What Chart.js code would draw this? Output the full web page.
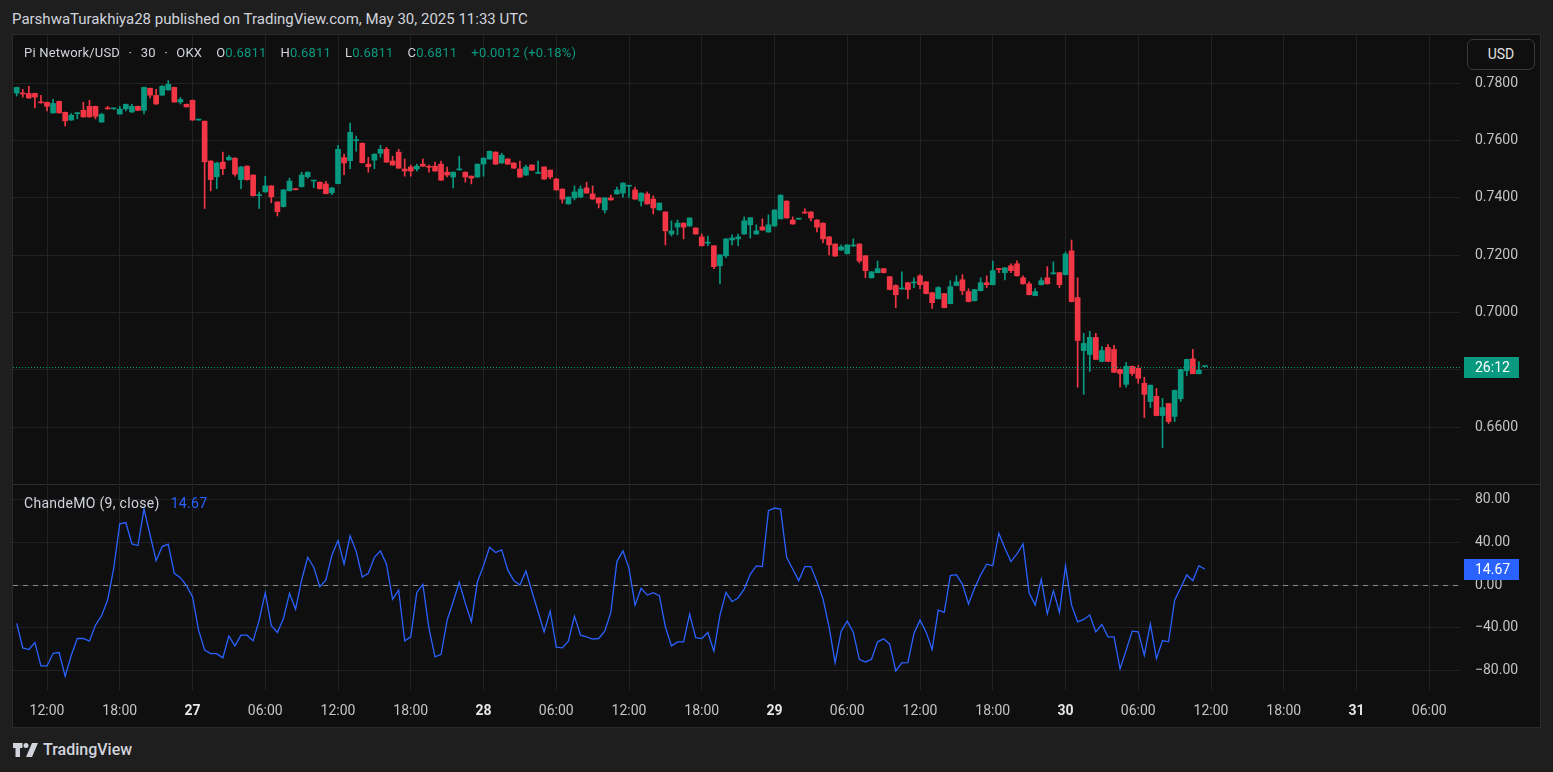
<!DOCTYPE html>
<html>
<head>
<meta charset="utf-8">
<script src="https://cdn.jsdelivr.net/npm/chart.js@4.4.1/dist/chart.umd.min.js"></script>
<style>
  body { margin: 0; width: 1553px; height: 772px; overflow: hidden; background: #1e1e1e; font-family: Roboto, "Noto Sans", sans-serif; }
  #title { position: absolute; left: 12px; top: 10px; color: #d1d4dc; font-size: 15px; }
  #frame { position: absolute; left: 12px; top: 34px; width: 1529px; height: 694px; background: #0f0f0f; border: 1px solid #2a2a2a; box-sizing: border-box; }
  canvas { position: absolute; }
  #main { left: 13px; top: 35px; }
  #osc { left: 13px; top: 486px; }
  #sep { position: absolute; left: 13px; top: 484px; width: 1527px; height: 1px; background: #2e2e2e; }
  #legend { position: absolute; left: 24px; top: 45px; font-size: 13px; color: #d1d4dc; white-space: pre; letter-spacing: 0.2px; }
  #legend span { margin-right: 14px; }
  #legend .g { color: #089981; }
  #legend .d { margin: 0 8.5px; }
  #osclegend { position: absolute; left: 24px; top: 495px; font-size: 14px; color: #d1d4dc; white-space: pre; letter-spacing: 0.3px; }
  #osclegend span { color: #2962ff; margin-left: 11px; }
  #usd { position: absolute; left: 1467px; top: 39px; width: 68px; height: 31px; border: 1px solid #3a3a3a; border-radius: 6px; box-sizing: border-box; color: #e0e0e0; font-size: 14px; line-height: 29px; text-align: center; background: #0f0f0f; }
  #brand { position: absolute; left: 13px; top: 740px; display: flex; align-items: center; color: #d1d4dc; font-size: 16px; font-weight: 500; }
  #brand svg { margin-right: 5px; }
</style>
</head>
<body>
<div id="title">ParshwaTurakhiya28 published on TradingView.com, May 30, 2025 11:33 UTC</div>
<div id="frame"></div>
<canvas id="main" width="1526" height="449"></canvas>
<div id="sep"></div>
<canvas id="osc" width="1526" height="241"></canvas>
<div id="legend"></div>
<div id="osclegend"></div>
<div id="usd">USD</div>
<div id="brand">
  <svg width="25" height="16" viewBox="0 0 25 16"><path d="M0 1h9.5v5H7v9H2.5V6H0z" fill="#d1d4dc"/><circle cx="13" cy="3.5" r="2.5" fill="#d1d4dc"/><path d="M19 1h6l-6 14h-6z" fill="#d1d4dc"/></svg>
  <span>TradingView</span>
</div>
<script>
// Pi Network/USD, 30 min bars, OKX – first bar 26 May 09:30, last 30 May 11:30
const open = [
  0.7766, 0.7765, 0.7765, 0.7765, 0.7734, 0.7734, 0.7697, 0.7737, 0.7699, 0.7672,
  0.7694, 0.7706, 0.7720, 0.7720, 0.7665, 0.7713, 0.7711, 0.7693, 0.7711, 0.7700,
  0.7720, 0.7706, 0.7783, 0.7758, 0.7759, 0.7777, 0.7786, 0.7735, 0.7727, 0.7741,
  0.7672, 0.7668, 0.7529, 0.7474, 0.7525, 0.7533, 0.7539, 0.7464, 0.7511, 0.7480,
  0.7408, 0.7421, 0.7442, 0.7386, 0.7370, 0.7425, 0.7431, 0.7439, 0.7474, 0.7459,
  0.7455, 0.7449, 0.7418, 0.7450, 0.7541, 0.7530, 0.7600, 0.7591, 0.7518, 0.7532,
  0.7556, 0.7570, 0.7529, 0.7560, 0.7501, 0.7508, 0.7501, 0.7518, 0.7509, 0.7511,
  0.7518, 0.7490, 0.7473, 0.7498, 0.7490, 0.7476, 0.7473, 0.7518, 0.7536, 0.7560,
  0.7522, 0.7536, 0.7522, 0.7501, 0.7480, 0.7515, 0.7486, 0.7508, 0.7497, 0.7466,
  0.7431, 0.7379, 0.7400, 0.7403, 0.7435, 0.7414, 0.7400, 0.7358, 0.7400, 0.7414,
  0.7417, 0.7441, 0.7428, 0.7389, 0.7414, 0.7396, 0.7358, 0.7351, 0.7274, 0.7298,
  0.7312, 0.7302, 0.7295, 0.7264, 0.7242, 0.7233, 0.7163, 0.7198, 0.7253, 0.7257,
  0.7274, 0.7306, 0.7274, 0.7299, 0.7281, 0.7302, 0.7327, 0.7389, 0.7323, 0.7326,
  0.7351, 0.7351, 0.7323, 0.7312, 0.7264, 0.7239, 0.7218, 0.7205, 0.7232, 0.7239,
  0.7198, 0.7121, 0.7139, 0.7153, 0.7125, 0.7094, 0.7082, 0.7104, 0.7103, 0.7128,
  0.7107, 0.7069, 0.7048, 0.7066, 0.7031, 0.7094, 0.7114, 0.7073, 0.7041, 0.7076,
  0.7104, 0.7097, 0.7153, 0.7139, 0.7163, 0.7170, 0.7121, 0.7100, 0.7059, 0.7097,
  0.7121, 0.7135, 0.7139, 0.7132, 0.7215, 0.7052, 0.6867, 0.6853, 0.6913, 0.6829,
  0.6878, 0.6871, 0.6801, 0.6749, 0.6812, 0.6805, 0.6753, 0.6689, 0.6707, 0.6640,
  0.6682, 0.6637, 0.6699, 0.6797, 0.6838, 0.6786, 0.6811
]
const high = [
  0.7787, 0.7779, 0.7790, 0.7766, 0.7758, 0.7735, 0.7744, 0.7738, 0.7700, 0.7695,
  0.7699, 0.7734, 0.7741, 0.7721, 0.7696, 0.7720, 0.7714, 0.7720, 0.7728, 0.7727,
  0.7721, 0.7787, 0.7784, 0.7779, 0.7793, 0.7810, 0.7787, 0.7751, 0.7728, 0.7742,
  0.7675, 0.7669, 0.7530, 0.7525, 0.7560, 0.7549, 0.7540, 0.7510, 0.7512, 0.7481,
  0.7421, 0.7476, 0.7443, 0.7387, 0.7430, 0.7469, 0.7432, 0.7490, 0.7491, 0.7461,
  0.7456, 0.7458, 0.7436, 0.7584, 0.7553, 0.7661, 0.7616, 0.7592, 0.7542, 0.7554,
  0.7584, 0.7577, 0.7546, 0.7570, 0.7536, 0.7515, 0.7518, 0.7536, 0.7515, 0.7525,
  0.7529, 0.7508, 0.7491, 0.7546, 0.7491, 0.7477, 0.7519, 0.7540, 0.7564, 0.7561,
  0.7556, 0.7537, 0.7523, 0.7529, 0.7515, 0.7516, 0.7529, 0.7509, 0.7498, 0.7469,
  0.7432, 0.7404, 0.7442, 0.7442, 0.7455, 0.7442, 0.7401, 0.7401, 0.7410, 0.7438,
  0.7453, 0.7443, 0.7438, 0.7418, 0.7421, 0.7407, 0.7383, 0.7352, 0.7320, 0.7323,
  0.7313, 0.7331, 0.7296, 0.7274, 0.7267, 0.7234, 0.7202, 0.7258, 0.7271, 0.7274,
  0.7334, 0.7332, 0.7306, 0.7327, 0.7341, 0.7359, 0.7411, 0.7390, 0.7334, 0.7328,
  0.7362, 0.7352, 0.7324, 0.7313, 0.7265, 0.7240, 0.7236, 0.7237, 0.7257, 0.7240,
  0.7199, 0.7143, 0.7180, 0.7154, 0.7126, 0.7097, 0.7142, 0.7105, 0.7121, 0.7132,
  0.7108, 0.7070, 0.7090, 0.7067, 0.7111, 0.7128, 0.7132, 0.7083, 0.7081, 0.7121,
  0.7128, 0.7180, 0.7154, 0.7157, 0.7170, 0.7180, 0.7128, 0.7107, 0.7083, 0.7121,
  0.7160, 0.7177, 0.7140, 0.7211, 0.7253, 0.7121, 0.6927, 0.6934, 0.6927, 0.6881,
  0.6888, 0.6885, 0.6802, 0.6826, 0.6813, 0.6815, 0.6774, 0.6747, 0.6735, 0.6700,
  0.6683, 0.6729, 0.6802, 0.6837, 0.6871, 0.6828, 0.6811
]
const low = [
  0.7756, 0.7752, 0.7748, 0.7714, 0.7731, 0.7704, 0.7696, 0.7696, 0.7651, 0.7671,
  0.7676, 0.7682, 0.7682, 0.7676, 0.7664, 0.7710, 0.7710, 0.7692, 0.7704, 0.7699,
  0.7705, 0.7693, 0.7749, 0.7727, 0.7758, 0.7776, 0.7734, 0.7728, 0.7717, 0.7671,
  0.7671, 0.7363, 0.7425, 0.7432, 0.7481, 0.7532, 0.7476, 0.7432, 0.7462, 0.7406,
  0.7363, 0.7420, 0.7383, 0.7337, 0.7368, 0.7424, 0.7428, 0.7438, 0.7469, 0.7436,
  0.7431, 0.7414, 0.7411, 0.7449, 0.7481, 0.7502, 0.7563, 0.7522, 0.7490, 0.7502,
  0.7542, 0.7524, 0.7514, 0.7503, 0.7476, 0.7476, 0.7494, 0.7510, 0.7490, 0.7493,
  0.7461, 0.7473, 0.7435, 0.7497, 0.7455, 0.7449, 0.7472, 0.7476, 0.7535, 0.7517,
  0.7521, 0.7517, 0.7503, 0.7472, 0.7479, 0.7496, 0.7485, 0.7465, 0.7466, 0.7427,
  0.7382, 0.7378, 0.7393, 0.7402, 0.7416, 0.7395, 0.7365, 0.7347, 0.7392, 0.7413,
  0.7403, 0.7403, 0.7395, 0.7372, 0.7378, 0.7344, 0.7357, 0.7236, 0.7267, 0.7271,
  0.7257, 0.7301, 0.7273, 0.7232, 0.7233, 0.7153, 0.7100, 0.7191, 0.7236, 0.7233,
  0.7273, 0.7260, 0.7273, 0.7287, 0.7280, 0.7301, 0.7326, 0.7329, 0.7308, 0.7325,
  0.7346, 0.7320, 0.7281, 0.7243, 0.7201, 0.7196, 0.7217, 0.7204, 0.7231, 0.7173,
  0.7121, 0.7120, 0.7138, 0.7138, 0.7079, 0.7017, 0.7081, 0.7048, 0.7087, 0.7083,
  0.7065, 0.7014, 0.7047, 0.7016, 0.7030, 0.7093, 0.7062, 0.7037, 0.7040, 0.7075,
  0.7087, 0.7096, 0.7139, 0.7114, 0.7139, 0.7127, 0.7099, 0.7061, 0.7058, 0.7096,
  0.7099, 0.7134, 0.7087, 0.7131, 0.7037, 0.6739, 0.6714, 0.6794, 0.6835, 0.6828,
  0.6828, 0.6790, 0.6739, 0.6739, 0.6780, 0.6753, 0.6633, 0.6668, 0.6639, 0.6528,
  0.6612, 0.6619, 0.6689, 0.6780, 0.6786, 0.6785, 0.6811
]
const close = [
  0.7786, 0.7763, 0.7749, 0.7752, 0.7732, 0.7720, 0.7730, 0.7697, 0.7669, 0.7689,
  0.7696, 0.7683, 0.7683, 0.7685, 0.7692, 0.7711, 0.7712, 0.7710, 0.7727, 0.7720,
  0.7706, 0.7786, 0.7759, 0.7728, 0.7790, 0.7797, 0.7735, 0.7744, 0.7718, 0.7672,
  0.7674, 0.7526, 0.7464, 0.7522, 0.7502, 0.7542, 0.7483, 0.7508, 0.7464, 0.7408,
  0.7410, 0.7442, 0.7404, 0.7352, 0.7428, 0.7459, 0.7429, 0.7480, 0.7490, 0.7460,
  0.7432, 0.7415, 0.7435, 0.7570, 0.7522, 0.7629, 0.7602, 0.7523, 0.7509, 0.7553,
  0.7570, 0.7525, 0.7515, 0.7504, 0.7494, 0.7494, 0.7511, 0.7511, 0.7507, 0.7494,
  0.7462, 0.7480, 0.7490, 0.7500, 0.7473, 0.7469, 0.7518, 0.7539, 0.7563, 0.7518,
  0.7549, 0.7518, 0.7504, 0.7473, 0.7508, 0.7497, 0.7487, 0.7466, 0.7473, 0.7428,
  0.7396, 0.7403, 0.7421, 0.7431, 0.7417, 0.7396, 0.7382, 0.7400, 0.7393, 0.7428,
  0.7452, 0.7442, 0.7396, 0.7417, 0.7379, 0.7365, 0.7382, 0.7285, 0.7285, 0.7312,
  0.7298, 0.7330, 0.7274, 0.7233, 0.7243, 0.7160, 0.7201, 0.7257, 0.7260, 0.7264,
  0.7320, 0.7331, 0.7285, 0.7288, 0.7306, 0.7358, 0.7410, 0.7330, 0.7309, 0.7327,
  0.7347, 0.7330, 0.7298, 0.7257, 0.7236, 0.7197, 0.7229, 0.7236, 0.7233, 0.7180,
  0.7146, 0.7142, 0.7153, 0.7139, 0.7080, 0.7062, 0.7083, 0.7080, 0.7104, 0.7097,
  0.7066, 0.7034, 0.7087, 0.7017, 0.7090, 0.7107, 0.7076, 0.7038, 0.7080, 0.7104,
  0.7097, 0.7146, 0.7150, 0.7156, 0.7146, 0.7128, 0.7100, 0.7062, 0.7073, 0.7111,
  0.7100, 0.7136, 0.7097, 0.7204, 0.7038, 0.6902, 0.6892, 0.6913, 0.6836, 0.6867,
  0.6829, 0.6791, 0.6787, 0.6812, 0.6787, 0.6770, 0.6714, 0.6746, 0.6640, 0.6668,
  0.6619, 0.6728, 0.6801, 0.6836, 0.6786, 0.6799, 0.6811
]
// Chande momentum oscillator (9, close), one value per bar
const cmo = [
  -35.9, -58.8, -60.3, -53.8, -75.6, -75.6, -63.8, -63.1, -85.3, -65.6,
  -50.0, -50.0, -52.5, -37.5, -28.8, -14.0, 15.6, 57.2, 58.4, 38.4,
  36.9, 70.9, 46.9, 22.8, 35.9, 38.1, 10.9, 6.9, -0.6, -10.9,
  -42.2, -60.9, -64.1, -64.1, -68.1, -47.8, -56.9, -46.9, -46.9, -52.2,
  -32.8, -7.2, -38.1, -44.4, -31.3, -7.8, -22.5, 4.7, 25.9, 16.6,
  -1.6, 4.7, 28.1, 41.6, 19.4, 45.9, 31.3, 7.5, 10.9, 25.9,
  31.9, 19.4, -13.4, -4.7, -52.2, -48.4, -6.9, 0.6, -40.6, -67.2,
  -64.7, -32.8, -15.6, 2.5, -17.2, -34.4, 3.1, 18.1, 35.3, 30.3,
  32.8, 14.1, 4.1, 0.0, 13.1, -6.3, -25.0, -43.8, -24.4, -58.1,
  -58.8, -52.5, -29.1, -46.9, -48.4, -50.6, -50.0, -43.1, -25.6, 21.9,
  31.9, 15.6, -18.8, -3.1, -9.4, -7.2, -10.0, -39.1, -56.9, -53.1,
  -53.1, -27.2, -49.1, -50.0, -44.4, -61.9, -28.1, -6.9, -15.6, -11.9,
  -3.8, 10.0, 17.8, 17.2, 69.4, 71.9, 70.9, 25.9, 15.0, 4.1,
  17.2, 17.2, 3.1, -13.1, -39.1, -72.8, -43.1, -33.8, -44.4, -69.7,
  -71.9, -69.4, -53.1, -50.3, -55.3, -80.3, -72.8, -72.5, -45.3, -32.8,
  -43.8, -60.3, -23.4, -25.6, 8.8, 9.7, 0.6, -17.8, -3.1, 9.4,
  19.4, 18.1, 48.4, 34.4, 21.9, 29.1, 38.4, -7.2, -18.8, 5.3,
  -26.9, -5.3, -25.6, 17.8, -18.8, -34.4, -32.2, -28.1, -43.8, -36.9,
  -48.4, -48.4, -78.4, -60.9, -43.1, -43.8, -65.6, -36.3, -68.8, -51.9,
  -53.1, -14.1, -2.5, 9.4, 4.1, 18.1, 14.67
]

// time axis: one label every 6 h (12 bars), first one is 26 May 12:00 = bar 5
const tickLabels = ['12:00', '18:00', '27', '06:00', '12:00', '18:00', '28', '06:00', '12:00', '18:00',
  '29', '06:00', '12:00', '18:00', '30', '06:00', '12:00', '18:00', '31', '06:00']
const firstTickBar = 5
const barsPerTick = 12
const priceTicks = [0.78, 0.76, 0.74, 0.72, 0.70, 0.68, 0.66]
const cmoTicks = [80, 40, 0, -40, -80]
const countdown = '26:12'

const GREEN = '#089981'
const RED = '#f23645'
const BLUE = '#2962ff'
const GRID = '#222222'
const AXIS_TXT = '#c4c4c4'
const FONT = 'Roboto, "Noto Sans", sans-serif'

Chart.defaults.font.family = FONT
Chart.defaults.font.size = 14
Chart.defaults.animation = false

const n = close.length
const last = n - 1
const colorOf = i => close[i] >= open[i] ? GREEN : RED
const isDay = l => !l.includes(':')
const fmt = (v, d) => (v < 0 ? '\u2212' : '') + Math.abs(v).toFixed(d)

// legends
const chg = close[last] - close[last - 1]
const pct = chg / close[last - 1] * 100
const sign = chg >= 0 ? '+' : '-'
document.getElementById('legend').innerHTML =
  'Pi Network/USD<i class="d">·</i>30<i class="d">·</i><span>OKX</span>' +
  `<span>O<b class="g">${open[last].toFixed(4)}</b></span>` +
  `<span>H<b class="g">${high[last].toFixed(4)}</b></span>` +
  `<span>L<b class="g">${low[last].toFixed(4)}</b></span>` +
  `<span>C<b class="g">${close[last].toFixed(4)}</b></span>` +
  `<span class="g">${sign}${Math.abs(chg).toFixed(4)} (${sign}${Math.abs(pct).toFixed(2)}%)</span>`
document.querySelectorAll('#legend b, #legend i').forEach(e => { e.style.fontWeight = 'normal'; e.style.fontStyle = 'normal' })
document.getElementById('osclegend').innerHTML = `ChandeMO (9, close)<span>${cmo[last].toFixed(2)}</span>`

// visible window in bar units (plot is 1447 px wide, 6.0625 px per bar)
const xMin = -0.61
const xMax = 238.07

function xScale(showLabels) {
  return {
    type: 'linear',
    min: xMin,
    max: xMax,
    offset: false,
    grid: { color: GRID, drawTicks: false, offset: false },
    border: { display: false },
    afterBuildTicks: s => { s.ticks = tickLabels.map((l, k) => ({ value: firstTickBar + k * barsPerTick })) },
    ticks: {
      display: showLabels,
      autoSkip: false,
      maxRotation: 0,
      padding: 13,
      callback: (v, i) => tickLabels[i],
      color: c => isDay(tickLabels[c.index] || '') ? '#e6e6e6' : AXIS_TXT,
      font: c => ({ size: 14, weight: isDay(tickLabels[c.index] || '') ? 'bold' : 'normal' })
    },
    afterFit: s => {
      s.height = showLabels ? 37 : 0
      s.paddingLeft = 0
      s.paddingRight = 0
    }
  }
}

function yScale(min, max, ticks, digits) {
  return {
    position: 'right',
    min, max,
    grid: { color: GRID, drawTicks: false },
    border: { display: false },
    afterBuildTicks: s => { s.ticks = ticks.map(v => ({ value: v })) },
    ticks: { color: AXIS_TXT, padding: 15, callback: v => fmt(v, digits) },
    afterFit: s => {
      s.width = 79
      s.paddingTop = 0
      s.paddingBottom = 0
    }
  }
}

function axisBox(chart, y, text, bg) {
  const ctx = chart.ctx
  const x0 = chart.chartArea.right + 4
  ctx.save()
  ctx.fillStyle = bg
  ctx.fillRect(x0, Math.round(y) - 10, 55, 21)
  ctx.fillStyle = '#ffffff'
  ctx.font = '14px ' + FONT
  ctx.textBaseline = 'middle'
  ctx.textAlign = 'left'
  ctx.fillText(text, x0 + 11, Math.round(y) + 1)
  ctx.restore()
}

const priceLine = {
  id: 'priceLine',
  afterDraw(chart) {
    const y = chart.scales.y.getPixelForValue(close[last])
    const ctx = chart.ctx
    const { left, right } = chart.chartArea
    ctx.save()
    ctx.strokeStyle = GREEN
    ctx.lineWidth = 1
    ctx.setLineDash([1, 2])
    ctx.beginPath()
    ctx.moveTo(left, Math.round(y) + 0.5)
    ctx.lineTo(right, Math.round(y) + 0.5)
    ctx.stroke()
    ctx.restore()
    axisBox(chart, y, countdown, GREEN)
  }
}

new Chart(document.getElementById('main'), {
  type: 'bar',
  data: {
    datasets: [
      {
        label: 'body',
        data: close.map((c, i) => ({ x: i, y: [open[i], c] })),
        backgroundColor: close.map((c, i) => colorOf(i)),
        barThickness: 5,
        minBarLength: 1,
        grouped: false
      },
      {
        label: 'wick',
        data: close.map((c, i) => ({ x: i, y: [low[i], high[i]] })),
        backgroundColor: close.map((c, i) => colorOf(i)),
        barThickness: 1,
        grouped: false
      }
    ]
  },
  options: {
    responsive: false,
    layout: { padding: 0 },
    plugins: { legend: { display: false }, tooltip: { enabled: false } },
    scales: {
      x: xScale(false),
      y: yScale(0.6401, 0.7969, priceTicks, 4)
    }
  },
  plugins: [priceLine]
})

const zeroLine = {
  id: 'zeroLine',
  beforeDatasetsDraw(chart) {
    const y = Math.round(chart.scales.y.getPixelForValue(0)) + 0.5
    const ctx = chart.ctx
    ctx.save()
    ctx.strokeStyle = '#8a8a8a'
    ctx.lineWidth = 1
    ctx.setLineDash([5, 5])
    ctx.beginPath()
    ctx.moveTo(chart.chartArea.left, y)
    ctx.lineTo(chart.chartArea.right, y)
    ctx.stroke()
    ctx.restore()
  },
  afterDraw(chart) {
    axisBox(chart, chart.scales.y.getPixelForValue(cmo[last]), cmo[last].toFixed(2), BLUE)
  }
}

new Chart(document.getElementById('osc'), {
  type: 'line',
  data: {
    datasets: [{
      label: 'ChandeMO',
      data: cmo.map((v, i) => ({ x: i, y: v })),
      borderColor: BLUE,
      borderWidth: 1.3,
      pointRadius: 0,
      tension: 0
    }]
  },
  options: {
    responsive: false,
    layout: { padding: 0 },
    plugins: { legend: { display: false }, tooltip: { enabled: false } },
    scales: {
      x: xScale(true),
      y: yScale(-98.1, 92.5, cmoTicks, 2)
    }
  },
  plugins: [zeroLine]
})
</script>
</body>
</html>
